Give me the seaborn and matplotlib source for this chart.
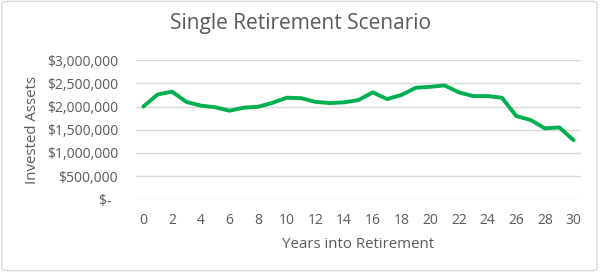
import matplotlib
matplotlib.use("Agg")
import matplotlib.pyplot as plt
import seaborn as sns
import pandas as pd
from matplotlib.patches import FancyBboxPatch
from matplotlib.ticker import FuncFormatter

years = list(range(31))
assets = [2000000, 2260000, 2320000, 2100000, 2020000, 1985000, 1910000, 1975000,
          1995000, 2080000, 2190000, 2180000, 2100000, 2075000, 2090000, 2140000,
          2305000, 2160000, 2250000, 2405000, 2425000, 2455000, 2305000, 2225000,
          2225000, 2190000, 1795000, 1710000, 1530000, 1550000, 1275000]
yticks = [0, 500000, 1000000, 1500000, 2000000, 2500000, 3000000]
xticks = list(range(0, 31, 2))
title = "Single Retirement Scenario"
xlabel = "Years into Retirement"
ylabel = "Invested Assets"

df = pd.DataFrame({"year": years, "assets": assets})

sns.set_theme(style="white")
plt.rcParams['font.family'] = ['Open Sans', 'DejaVu Sans']
grey = "#595959"

fig = plt.figure(figsize=(6, 2.72), dpi=100)
ax = fig.add_axes([0.227, 0.267, 0.741, 0.512])
sns.lineplot(data=df, x="year", y="assets", ax=ax, color="#00B050", linewidth=2.8)

ax.set_xlim(-0.5, 30.5)
ax.set_ylim(0, 3000000)
ax.set_yticks(yticks)
ax.set_xticks(xticks)

def fmt(v, pos):
    if v == 0:
        return "$-  "
    return "${:,.0f}".format(v)

ax.yaxis.set_major_formatter(FuncFormatter(fmt))
ax.grid(axis="y", color="#d9d9d9", linewidth=1.0)
ax.set_axisbelow(True)
for s in ax.spines.values():
    s.set_visible(False)
ax.tick_params(axis="both", length=0, labelsize=10, colors=grey, pad=10)
ax.tick_params(axis="y", pad=13)
ax.set_xlabel(xlabel, fontsize=10.8, color=grey, labelpad=6)
ax.set_ylabel(ylabel, fontsize=10.8, color=grey, labelpad=5)
fig.text(0.5, 0.915, title, ha="center", va="center", fontsize=15, color=grey)

border = FancyBboxPatch((0.003, 0.005), 0.992, 0.99, boxstyle="round,pad=0,rounding_size=0.01",
                        transform=fig.transFigure, fill=False, edgecolor="#d9d9d9", linewidth=1.0)
fig.patches.append(border)

fig.savefig("out.png", dpi=100)
